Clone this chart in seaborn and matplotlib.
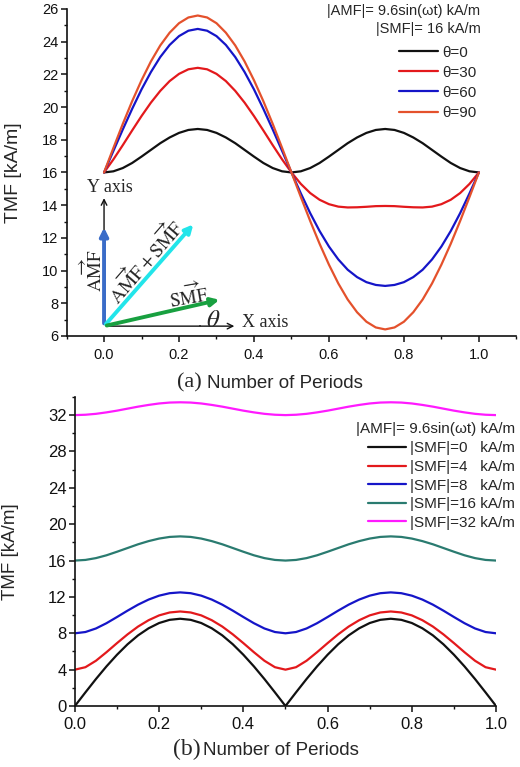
import numpy as np
import pandas as pd
import matplotlib
matplotlib.use('Agg')
import matplotlib.pyplot as plt
import seaborn as sns
from matplotlib.lines import Line2D
from matplotlib.patches import Arc
from matplotlib.ticker import MultipleLocator

periods = [0.0, 0.025, 0.05, 0.075, 0.1, 0.125, 0.15, 0.175, 0.2, 0.225,
           0.25, 0.275, 0.3, 0.325, 0.35, 0.375, 0.4, 0.425, 0.45, 0.475,
           0.5, 0.525, 0.55, 0.575, 0.6, 0.625, 0.65, 0.675, 0.7, 0.725,
           0.75, 0.775, 0.8, 0.825, 0.85, 0.875, 0.9, 0.925, 0.95, 0.975, 1.0]

# (a) |SMF| = 16 kA/m at angle theta
tmf_theta0 = [16.00, 16.07, 16.27, 16.58, 16.97, 17.38, 17.79, 18.14, 18.42, 18.60,
              18.66, 18.60, 18.42, 18.14, 17.79, 17.38, 16.97, 16.58, 16.27, 16.07,
              16.00, 16.07, 16.27, 16.58, 16.97, 17.38, 17.79, 18.14, 18.42, 18.60,
              18.66, 18.60, 18.42, 18.14, 17.79, 17.38, 16.97, 16.58, 16.27, 16.07, 16.00]
tmf_theta30 = [16.00, 16.80, 17.67, 18.57, 19.45, 20.27, 20.99, 21.59, 22.03, 22.31,
               22.40, 22.31, 22.03, 21.59, 20.99, 20.27, 19.45, 18.57, 17.67, 16.80,
               16.00, 15.30, 14.74, 14.33, 14.06, 13.91, 13.86, 13.87, 13.90, 13.94,
               13.95, 13.94, 13.90, 13.87, 13.86, 13.91, 14.06, 14.33, 14.74, 15.30, 16.00]
tmf_theta60 = [16.00, 17.32, 18.63, 19.89, 21.08, 22.14, 23.06, 23.80, 24.34, 24.67,
               24.78, 24.67, 24.34, 23.80, 23.06, 22.14, 21.08, 19.89, 18.63, 17.32,
               16.00, 14.72, 13.51, 12.42, 11.47, 10.68, 10.05, 9.60, 9.29, 9.12,
               9.06, 9.12, 9.29, 9.60, 10.05, 10.68, 11.47, 12.42, 13.51, 14.72, 16.00]
tmf_theta90 = [16.00, 17.50, 18.97, 20.36, 21.64, 22.79, 23.77, 24.55, 25.13, 25.48,
               25.60, 25.48, 25.13, 24.55, 23.77, 22.79, 21.64, 20.36, 18.97, 17.50,
               16.00, 14.50, 13.03, 11.64, 10.36, 9.21, 8.23, 7.45, 6.87, 6.52,
               6.40, 6.52, 6.87, 7.45, 8.23, 9.21, 10.36, 11.64, 13.03, 14.50, 16.00]
top_labels = ['θ=0', 'θ=30', 'θ=60', 'θ=90']
top_colors = ['#111111', '#e3191c', '#1515c8', '#e4512c']

# (b) different |SMF| magnitudes
tmf_smf0 = [0.00, 1.50, 2.97, 4.36, 5.64, 6.79, 7.77, 8.55, 9.13, 9.48,
            9.60, 9.48, 9.13, 8.55, 7.77, 6.79, 5.64, 4.36, 2.97, 1.50,
            0.00, 1.50, 2.97, 4.36, 5.64, 6.79, 7.77, 8.55, 9.13, 9.48,
            9.60, 9.48, 9.13, 8.55, 7.77, 6.79, 5.64, 4.36, 2.97, 1.50, 0.00]
tmf_smf4 = [4.00, 4.27, 4.98, 5.92, 6.92, 7.88, 8.74, 9.44, 9.97, 10.29,
            10.40, 10.29, 9.97, 9.44, 8.74, 7.88, 6.92, 5.92, 4.98, 4.27,
            4.00, 4.27, 4.98, 5.92, 6.92, 7.88, 8.74, 9.44, 9.97, 10.29,
            10.40, 10.29, 9.97, 9.44, 8.74, 7.88, 6.92, 5.92, 4.98, 4.27, 4.00]
tmf_smf8 = [8.00, 8.14, 8.53, 9.11, 9.79, 10.49, 11.15, 11.71, 12.14, 12.41,
            12.50, 12.41, 12.14, 11.71, 11.15, 10.49, 9.79, 9.11, 8.53, 8.14,
            8.00, 8.14, 8.53, 9.11, 9.79, 10.49, 11.15, 11.71, 12.14, 12.41,
            12.50, 12.41, 12.14, 11.71, 11.15, 10.49, 9.79, 9.11, 8.53, 8.14, 8.00]
tmf_smf16 = [16.00, 16.07, 16.27, 16.58, 16.97, 17.38, 17.79, 18.14, 18.42, 18.60,
             18.66, 18.60, 18.42, 18.14, 17.79, 17.38, 16.97, 16.58, 16.27, 16.07,
             16.00, 16.07, 16.27, 16.58, 16.97, 17.38, 17.79, 18.14, 18.42, 18.60,
             18.66, 18.60, 18.42, 18.14, 17.79, 17.38, 16.97, 16.58, 16.27, 16.07, 16.00]
tmf_smf32 = [32.00, 32.04, 32.14, 32.30, 32.49, 32.71, 32.93, 33.12, 33.28, 33.38,
             33.41, 33.38, 33.28, 33.12, 32.93, 32.71, 32.49, 32.30, 32.14, 32.04,
             32.00, 32.04, 32.14, 32.30, 32.49, 32.71, 32.93, 33.12, 33.28, 33.38,
             33.41, 33.38, 33.28, 33.12, 32.93, 32.71, 32.49, 32.30, 32.14, 32.04, 32.00]
bot_labels = ['|SMF|=0   kA/m', '|SMF|=4   kA/m', '|SMF|=8   kA/m',
              '|SMF|=16 kA/m', '|SMF|=32 kA/m']
bot_colors = ['#111111', '#e3191c', '#1515c8', '#2a7b70', '#ff1aff']

df_top = pd.DataFrame({
    'period': periods * 4,
    'tmf': tmf_theta0 + tmf_theta30 + tmf_theta60 + tmf_theta90,
    'curve': [lab for lab in top_labels for _ in periods],
})
df_bot = pd.DataFrame({
    'period': periods * 5,
    'tmf': tmf_smf0 + tmf_smf4 + tmf_smf8 + tmf_smf16 + tmf_smf32,
    'curve': [lab for lab in bot_labels for _ in periods],
})

sns.set_style('ticks')
plt.rcParams['font.family'] = ['Liberation Sans', 'DejaVu Sans']
plt.rcParams['mathtext.fontset'] = 'stix'

fig = plt.figure(figsize=(5.2, 7.67), dpi=100)
ax1 = fig.add_axes([0.128, 0.562, 0.865, 0.4263])
ax2 = fig.add_axes([0.144, 0.0795, 0.81, 0.403])

sns.lineplot(data=df_top, x='period', y='tmf', hue='curve', hue_order=top_labels,
             palette=top_colors, estimator=None, sort=False, lw=1.6,
             legend=False, ax=ax1)
sns.lineplot(data=df_bot, x='period', y='tmf', hue='curve', hue_order=bot_labels,
             palette=bot_colors, estimator=None, sort=False, lw=1.6,
             legend=False, ax=ax2)

for ax in (ax1, ax2):
    sns.despine(ax=ax)
    for sp in ('left', 'bottom'):
        ax.spines[sp].set_linewidth(1.2)
        ax.spines[sp].set_color('#111111')
    ax.tick_params(which='major', direction='out', length=4, width=1.1, colors='#111111')
    ax.tick_params(which='minor', direction='out', length=2.5, width=1.0, colors='#111111')
    ax.xaxis.set_major_locator(MultipleLocator(0.2))
    ax.xaxis.set_minor_locator(MultipleLocator(0.1))

# panel (a)
ax1.set_xlim(-0.1, 1.1)
ax1.set_ylim(6, 26)
ax1.yaxis.set_major_locator(MultipleLocator(2))
ax1.yaxis.set_minor_locator(MultipleLocator(1))
ax1.set_xticks([0.0, 0.2, 0.4, 0.6, 0.8, 1.0])
ax1.tick_params(axis='x', labelsize=10.5, pad=5)
ax1.tick_params(axis='y', labelsize=10.5, pad=2)
ax1.set_ylabel('TMF [kA/m]', fontsize=14)
ax1.yaxis.set_label_coords(-0.1, 0.5)
ax1.set_xlabel('Number of Periods', fontsize=13.5, ha='left', va='baseline')
ax1.xaxis.set_label_coords(0.312, -0.159)
ax1.text(0.3, -0.159, '(a)', transform=ax1.transAxes, ha='right', va='baseline',
         fontsize=16, family='Liberation Serif')

ax1.text(0.92, 0.995, '|AMF|= 9.6sin(ωt) kA/m', transform=ax1.transAxes,
         ha='right', va='center', fontsize=10.5)
ax1.text(0.92, 0.94, '|SMF|= 16 kA/m', transform=ax1.transAxes,
         ha='right', va='center', fontsize=10.5)
h1 = [Line2D([], [], color=c, lw=1.6) for c in top_colors]
ax1.legend(h1, top_labels, loc='upper left', bbox_to_anchor=(0.74, 0.888),
           frameon=False, fontsize=11, handlelength=2.5, handletextpad=0.3,
           labelspacing=0.4, borderpad=0, borderaxespad=0)

# vector diagram
ox, oy = 0.0, 6.6
ax1.annotate('', xy=(0.355, oy), xytext=(ox, oy),
             arrowprops=dict(arrowstyle='->', color='#111111', lw=1.0))
ax1.annotate('', xy=(ox, 14.6), xytext=(ox, oy),
             arrowprops=dict(arrowstyle='->', color='#111111', lw=1.0))
ax1.annotate('', xy=(ox, 12.8), xytext=(ox, oy),
             arrowprops=dict(arrowstyle='-|>', color='#3a6cc8', lw=2.8, mutation_scale=12))
ax1.annotate('', xy=(0.243, 12.95), xytext=(ox, oy),
             arrowprops=dict(arrowstyle='-|>', color='#22e5ea', lw=2.8, mutation_scale=12))
ax1.annotate('', xy=(0.315, 8.25), xytext=(ox, oy),
             arrowprops=dict(arrowstyle='-|>', color='#18a040', lw=2.8, mutation_scale=12))
ax1.add_patch(Arc((ox, oy), 2 * 96 / 375, 2 * 96 / 16.35, theta1=-3, theta2=14,
                  color='#111111', lw=1.0))
ax1.text(0.015, 15.1, 'Y axis', fontsize=13, family='Liberation Serif',
         ha='center', va='center')
ax1.text(0.368, 6.8, 'X axis', fontsize=13, family='Liberation Serif',
         ha='left', va='center')
ax1.text(0.29, 7.0, r'$\theta$', fontsize=18, ha='center', va='center')
ax1.text(-0.03, 10.0, r'$\overrightarrow{\mathrm{AMF}}$', fontsize=13.5,
         rotation=90, ha='center', va='center')
ax1.text(0.11, 10.6, r'$\overrightarrow{\mathrm{AMF}}+\overrightarrow{\mathrm{SMF}}$',
         fontsize=14, rotation=49, ha='center', va='center')
ax1.text(0.225, 8.5, r'$\overrightarrow{\mathrm{SMF}}$', fontsize=13.5,
         rotation=10, ha='center', va='center')

# panel (b)
ax2.set_xlim(0, 1.0)
ax2.set_ylim(0, 34)
ax2.yaxis.set_major_locator(MultipleLocator(4))
ax2.yaxis.set_minor_locator(MultipleLocator(2))
ax2.tick_params(axis='x', labelsize=12, pad=4)
ax2.tick_params(axis='y', labelsize=12, pad=2)
ax2.set_ylabel('TMF [kA/m]', fontsize=13.5)
ax2.yaxis.set_label_coords(-0.133, 0.5)
ax2.set_xlabel('Number of Periods', fontsize=13.5, ha='left', va='baseline')
ax2.xaxis.set_label_coords(0.304, -0.158)
ax2.text(0.299, -0.158, '(b)', transform=ax2.transAxes, ha='right', va='baseline',
         fontsize=17, family='Liberation Serif')

ax2.text(1.045, 0.896, '|AMF|= 9.6sin(ωt) kA/m', transform=ax2.transAxes,
         ha='right', va='center', fontsize=11, clip_on=False)
h2 = [Line2D([], [], color=c, lw=1.6) for c in bot_colors]
ax2.legend(h2, bot_labels, loc='upper left', bbox_to_anchor=(0.695, 0.856),
           frameon=False, fontsize=11, handlelength=2.5, handletextpad=0.3,
           labelspacing=0.3, borderpad=0, borderaxespad=0)

fig.savefig('out.png', dpi=100)
